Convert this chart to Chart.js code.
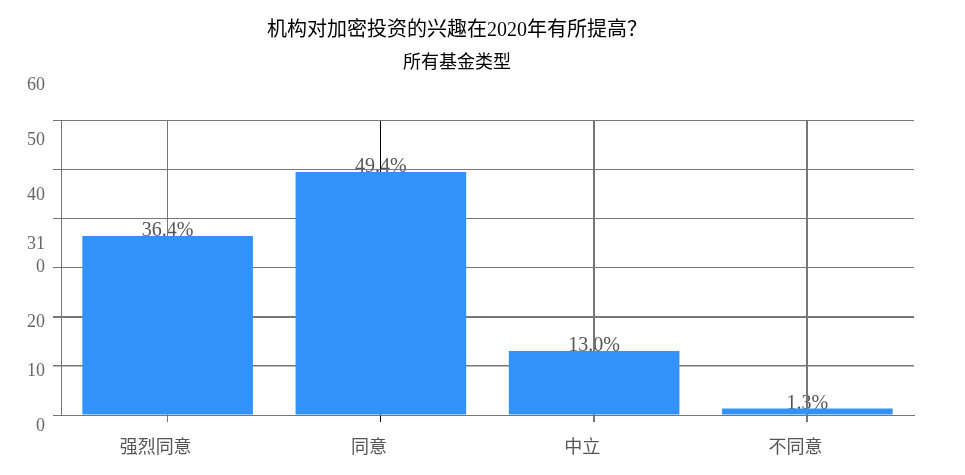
<!DOCTYPE html>
<html>
<head>
<meta charset="utf-8">
<script src="https://cdn.jsdelivr.net/npm/chart.js@4.4.1/dist/chart.umd.min.js"></script>
<style>
  html, body { margin: 0; padding: 0; background: #ffffff; }
  #wrap { width: 965px; height: 475px; }
</style>
</head>
<body>
<div id="wrap"><canvas id="c" width="965" height="475"></canvas></div>
<script>
// ---- data ----
const categories = ['强烈同意', '同意', '中立', '不同意'];
const values = [36.4, 49.4, 13.0, 1.3];
const valueLabels = ['36.4%', '49.4%', '13.0%', '1.3%'];
const yTickLabels = ['0', '10', '20', '31\n0', '40', '50', '60'];
const titleText = '机构对加密投资的兴趣在2020年有所提高？';
const subtitleText = '所有基金类型';

// ---- styling (not data) ----
const SERIF_CJK = '"Liberation Serif", "Noto Sans CJK SC", serif';
const GRID = '#777777';
const yShift = [2, 1, 1, -2, -4, -5, -6]; // empty-line padding per tick label
const yGridWidth = [1, 1.5, 2, 1, 1, 1, 1];
const xGridColor = [GRID, '#000000', GRID, GRID];
const xGridWidth = [1, 1, 2, 2];

const valueLabelPlugin = {
  id: 'valueLabels',
  beforeDraw(chart) {
    const ctx = chart.ctx;
    const meta = chart.getDatasetMeta(0);
    ctx.save();
    ctx.font = '20px ' + SERIF_CJK;
    ctx.fillStyle = '#555555';
    ctx.textAlign = 'center';
    ctx.textBaseline = 'alphabetic';
    meta.data.forEach((bar, i) => {
      ctx.fillText(valueLabels[i], bar.x, bar.y);
    });
    ctx.restore();
  }
};

new Chart(document.getElementById('c'), {
  type: 'bar',
  data: {
    labels: categories,
    datasets: [{
      data: values,
      backgroundColor: 'rgb(51,146,250)',
      borderWidth: 0,
      barPercentage: 0.8,
      categoryPercentage: 1.0
    }]
  },
  options: {
    responsive: false,
    animation: false,
    layout: { padding: { left: 0, right: 51, top: 0, bottom: 0 } },
    plugins: {
      legend: { display: false },
      tooltip: { enabled: false },
      title: {
        display: true,
        text: titleText,
        color: '#000000',
        font: { family: SERIF_CJK, size: 20, weight: 'normal', lineHeight: 1.2 },
        padding: { top: 19, bottom: 9.2 }
      },
      subtitle: {
        display: true,
        text: subtitleText,
        color: '#000000',
        font: { family: SERIF_CJK, size: 18, weight: 'normal', lineHeight: 1.2 },
        padding: { top: 0, bottom: 46.2 }
      }
    },
    scales: {
      x: {
        grid: {
          offset: false,
          drawTicks: true,
          tickLength: 7,
          color: (c) => xGridColor[c.index] || GRID,
          lineWidth: (c) => xGridWidth[c.index] || 1
        },
        border: { display: true, color: GRID, width: 1 },
        ticks: {
          color: '#555555',
          font: { family: SERIF_CJK, size: 18, lineHeight: 1.2 },
          padding: 15,
          labelOffset: -12,
          maxRotation: 0,
          autoSkip: false
        },
        afterFit(scale) { scale.height = 60; }
      },
      y: {
        min: 0,
        max: 60,
        grid: {
          drawTicks: true,
          tickLength: 8,
          color: GRID,
          lineWidth: (c) => yGridWidth[c.index] || 1
        },
        border: { display: true, color: GRID, width: 1 },
        ticks: {
          stepSize: 10,
          autoSkip: false,
          color: '#666666',
          padding: 8,
          font: { family: SERIF_CJK, size: 18, lineHeight: '11.5px' },
          callback: (value, index) => {
            const parts = (yTickLabels[index] || '').split('\n');
            const lines = [];
            parts.forEach((p, k) => { if (k > 0) lines.push(''); lines.push(p); });
            const s = yShift[index] || 0;
            if (s > 0) { for (let k = 0; k < s; k++) lines.unshift(''); }
            if (s < 0) { for (let k = 0; k < -s; k++) lines.push(''); }
            return lines;
          }
        },
        afterFit(scale) { scale.width = 61; }
      }
    }
  },
  plugins: [valueLabelPlugin]
});
</script>
</body>
</html>
